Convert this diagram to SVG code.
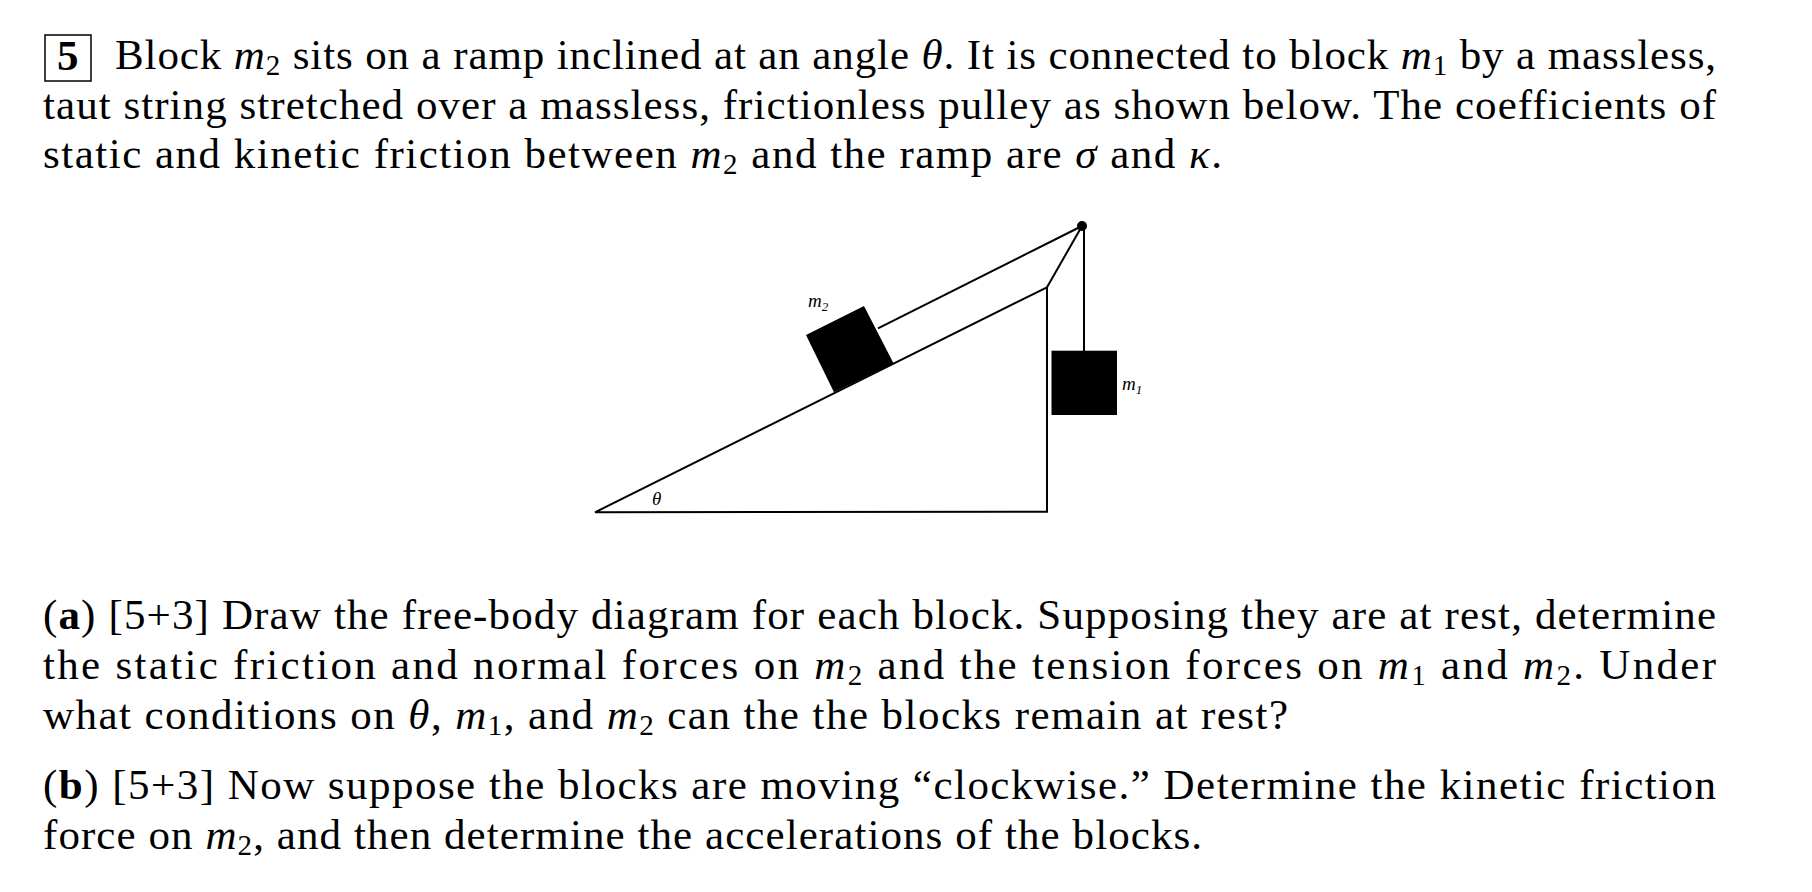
<svg xmlns="http://www.w3.org/2000/svg" width="1812" height="892" viewBox="0 0 1812 892">
<style>
.t{font-family:"Liberation Serif","DejaVu Serif",serif;font-size:43px;fill:#000}
.i{font-style:italic}
.s{font-size:29px}
.l{font-family:"Liberation Serif",serif;font-style:italic;font-size:19px;fill:#000}
.ln{stroke:#000;stroke-width:2;fill:none}
</style>
<rect width="1812" height="892" fill="#fff"/>
<g id="header">
<rect x="45" y="35" width="46" height="46" fill="none" stroke="#000" stroke-width="1.5"/>
<text class="t" x="57" y="70" font-weight="bold">5</text>
<text class="t" x="115" y="69" textLength="1601" lengthAdjust="spacing">Block <tspan class="i">m</tspan><tspan class="s" dy="6">2</tspan><tspan dy="-6"> sits on a ramp inclined at an angle </tspan><tspan class="i">θ</tspan>. It is connected to block <tspan class="i">m</tspan><tspan class="s" dy="6">1</tspan><tspan dy="-6"> by a massless,</tspan></text>
<text class="t" x="43" y="119" textLength="1673" lengthAdjust="spacing">taut string stretched over a massless, frictionless pulley as shown below. The coefficients of</text>
<text class="t" x="43" y="168" textLength="1179" lengthAdjust="spacing">static and kinetic friction between <tspan class="i">m</tspan><tspan class="s" dy="6">2</tspan><tspan dy="-6"> and the ramp are </tspan><tspan class="i">σ</tspan> and <tspan class="i">κ</tspan>.</text>
</g>
<g id="ramp">
<path class="ln" d="M595,512.3 L1047,511.7 L1047,287.3 Z"/>
<text class="l" x="652" y="505">θ</text>
</g>
<g id="pulley"><circle cx="1082" cy="226" r="5" fill="#000"/></g>
<g id="connectors">
<path class="ln" d="M1082,226 L1047,287.3"/>
<path class="ln" d="M1082,226 L878,328.3"/>
<path class="ln" d="M1084,226 L1084,351"/>
</g>
<g id="m2">
<polygon points="806,335 864,306 893.5,363.3 834,392.3" fill="#000"/>
<text class="l" x="808" y="307">m<tspan font-size="13" dy="4">2</tspan></text>
</g>
<g id="m1">
<rect x="1051.5" y="350.7" width="65.5" height="64.3" fill="#000"/>
<text class="l" x="1122" y="390">m<tspan font-size="13" dy="4">1</tspan></text>
</g>
<g id="parts">
<text class="t" x="43" y="629" textLength="1673" lengthAdjust="spacing">(<tspan font-weight="bold">a</tspan>) [5+3] Draw the free-body diagram for each block. Supposing they are at rest, determine</text>
<text class="t" x="43" y="679" textLength="1673" lengthAdjust="spacing">the static friction and normal forces on <tspan class="i">m</tspan><tspan class="s" dy="6">2</tspan><tspan dy="-6"> and the tension forces on </tspan><tspan class="i">m</tspan><tspan class="s" dy="6">1</tspan><tspan dy="-6"> and </tspan><tspan class="i">m</tspan><tspan class="s" dy="6">2</tspan><tspan dy="-6">. Under</tspan></text>
<text class="t" x="43" y="729" textLength="1245" lengthAdjust="spacing">what conditions on <tspan class="i">θ</tspan>, <tspan class="i">m</tspan><tspan class="s" dy="6">1</tspan><tspan dy="-6">, and </tspan><tspan class="i">m</tspan><tspan class="s" dy="6">2</tspan><tspan dy="-6"> can the the blocks remain at rest?</tspan></text>
<text class="t" x="43" y="799" textLength="1673" lengthAdjust="spacing">(<tspan font-weight="bold">b</tspan>) [5+3] Now suppose the blocks are moving “clockwise.” Determine the kinetic friction</text>
<text class="t" x="43" y="849" textLength="1159" lengthAdjust="spacing">force on <tspan class="i">m</tspan><tspan class="s" dy="6">2</tspan><tspan dy="-6">, and then determine the accelerations of the blocks.</tspan></text>
</g>
</svg>
